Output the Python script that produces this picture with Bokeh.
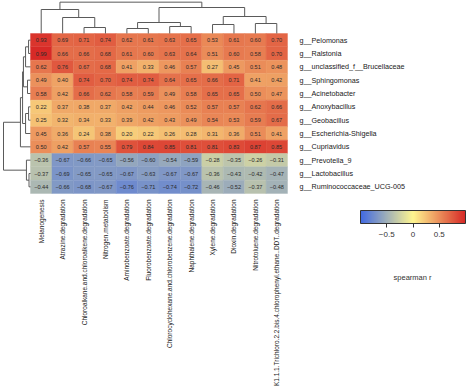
import numpy as np
from bokeh.plotting import figure
from bokeh.models import (ColumnDataSource, Range1d, LinearColorMapper, ColorBar,
                          FixedTicker, Label)
from bokeh.transform import transform
from bokeh.core.properties import value
from bokeh.embed import file_html
from bokeh.resources import INLINE

# ---------------- data ----------------
genera = ["g__Pelomonas", "g__Ralstonia", "g__unclassified_f__Brucellaceae",
          "g__Sphingomonas", "g__Acinetobacter", "g__Anoxybacillus",
          "g__Geobacillus", "g__Escherichia-Shigella", "g__Cupriavidus",
          "g__Prevotella_9", "g__Lactobacillus", "g__Ruminococcaceae_UCG-005"]

pathways = ["Melanogenesis", "Atrazine.degradation",
            "Chloroalkane.and.chloroalkene.degradation", "Nitrogen.metabolism",
            "Aminobenzoate.degradation", "Fluorobenzoate.degradation",
            "Chlorocyclohexane.and.chlorobenzene.degradation",
            "Naphthalene.degradation", "Xylene.degradation", "Dioxin.degradation",
            "Nitrotoluene.degradation",
            "K1.1.1.Trichloro.2.2.bis.4.chlorophenyl.ethane..DDT..degradation"]

r_pelomonas = [0.93, 0.69, 0.71, 0.74, 0.62, 0.61, 0.63, 0.65, 0.53, 0.61, 0.60, 0.70]
r_ralstonia = [0.99, 0.66, 0.66, 0.68, 0.61, 0.60, 0.63, 0.64, 0.51, 0.60, 0.58, 0.70]
r_brucellaceae = [0.62, 0.76, 0.67, 0.68, 0.41, 0.33, 0.46, 0.57, 0.27, 0.45, 0.51, 0.48]
r_sphingomonas = [0.49, 0.40, 0.74, 0.70, 0.74, 0.74, 0.64, 0.65, 0.66, 0.71, 0.41, 0.42]
r_acinetobacter = [0.58, 0.42, 0.66, 0.62, 0.58, 0.59, 0.49, 0.58, 0.65, 0.65, 0.50, 0.47]
r_anoxybacillus = [0.22, 0.37, 0.38, 0.37, 0.42, 0.44, 0.46, 0.52, 0.57, 0.57, 0.62, 0.66]
r_geobacillus = [0.25, 0.32, 0.34, 0.33, 0.39, 0.42, 0.43, 0.49, 0.54, 0.53, 0.59, 0.67]
r_escherichia = [0.45, 0.36, 0.24, 0.38, 0.20, 0.22, 0.26, 0.28, 0.31, 0.36, 0.51, 0.41]
r_cupriavidus = [0.50, 0.42, 0.57, 0.55, 0.79, 0.84, 0.85, 0.81, 0.81, 0.83, 0.87, 0.85]
r_prevotella = [-0.36, -0.67, -0.66, -0.65, -0.56, -0.60, -0.54, -0.59, -0.28, -0.35, -0.26, -0.31]
r_lactobacillus = [-0.37, -0.69, -0.65, -0.65, -0.67, -0.63, -0.67, -0.67, -0.36, -0.43, -0.42, -0.47]
r_ruminococcaceae = [-0.44, -0.66, -0.68, -0.67, -0.76, -0.71, -0.74, -0.72, -0.46, -0.52, -0.37, -0.48]

rows = [r_pelomonas, r_ralstonia, r_brucellaceae, r_sphingomonas, r_acinetobacter,
        r_anoxybacillus, r_geobacillus, r_escherichia, r_cupriavidus,
        r_prevotella, r_lactobacillus, r_ruminococcaceae]

# dendrogram merges (left id, right id, height); leaves are 0..n-1, merge k has id n+k
col_merges = [(2, 3, 0.45), (1, 12, 1.2), (0, 13, 1.8), (4, 5, 0.375), (6, 7, 0.525),
              (15, 16, 0.825), (8, 9, 0.675), (10, 11, 0.75), (18, 19, 1.275),
              (17, 20, 1.95), (14, 21, 2.35)]
row_merges = [(0, 1, 0.09), (12, 2, 0.23), (3, 4, 0.14), (13, 14, 0.33), (5, 6, 0.09),
              (16, 7, 0.23), (15, 17, 0.37), (18, 8, 0.47), (10, 11, 0.07), (9, 20, 0.19),
              (19, 21, 1.26)]

colorbar_ticks = [-0.5, 0, 0.5]

# ---------------- styling helpers ----------------
def blend(c1, c2, t):
    return tuple(int(round(a + (b - a) * t)) for a, b in zip(c1, c2))

blue, yel, red = (65, 105, 225), (255, 246, 143), (215, 40, 38)
palette = []
for i in range(256):
    v = -1 + 2 * i / 255
    c = blend(blue, yel, v + 1) if v < 0 else blend(yel, red, v)
    palette.append("#%02x%02x%02x" % c)
mapper = LinearColorMapper(palette=palette, low=-1, high=1)

W, H = 474, 387
cw, ch = 257 / 12, 160 / 12
x0 = -30 / cw
y0 = -33 / ch

p = figure(width=W, height=H, output_backend="svg", toolbar_location=None,
           x_axis_type=None, y_axis_type=None, min_border=0,
           x_range=Range1d(x0, x0 + W / cw), y_range=Range1d(y0 + H / ch, y0))
p.grid.visible = False
p.outline_line_color = None
p.background_fill_color = "white"

FONT = value("Liberation Sans")

# heatmap
xs, ys, vals, labs = [], [], [], []
for j, r in enumerate(rows):
    for i, v in enumerate(r):
        xs.append(i + 0.5)
        ys.append(j + 0.5)
        vals.append(v)
        labs.append(("%.2f" % v).replace("-", "\u2212"))
src = ColumnDataSource(dict(x=xs, y=ys, v=vals, lab=labs))
p.rect("x", "y", width=1, height=1, source=src,
       fill_color=transform("v", mapper), line_color=transform("v", mapper), line_width=0.4)
p.text("x", "y", text="lab", source=src, text_align="center", text_baseline="middle",
       text_font=FONT, text_font_size="5.6px", text_color="#2a2a2a")

# row labels
p.text(x=[12 + 12 / cw] * len(genera), y=[j + 0.5 for j in range(len(genera))], text=genera,
       text_align="left", text_baseline="middle", text_font=FONT, text_font_size="7.2px",
       text_color="#1a1a1a")

# column labels
p.text(x=[i + 0.5 for i in range(len(pathways))], y=[12 + 6 / ch] * len(pathways), text=pathways,
       angle=np.pi / 2, text_align="right", text_baseline="middle", text_font=FONT,
       text_font_size="6.5px", text_color="#1a1a1a")

# dendrograms
def dendro(merges, n):
    pos = {i: i + 0.5 for i in range(n)}
    hgt = {i: 0.0 for i in range(n)}
    segs = []
    for k, (a, b, h) in enumerate(merges):
        nid = n + k
        segs.append(([pos[a], pos[a], pos[b], pos[b]], [hgt[a], h, h, hgt[b]]))
        pos[nid] = (pos[a] + pos[b]) / 2
        hgt[nid] = h
    return segs

cs = dendro(col_merges, 12)
p.multi_line(xs=[s[0] for s in cs], ys=[[-h for h in s[1]] for s in cs],
             line_color="#5a5a5a", line_width=1)
rs = dendro(row_merges, 12)
p.multi_line(xs=[[-h for h in s[1]] for s in rs], ys=[s[0] for s in rs],
             line_color="#5a5a5a", line_width=1)

# colour bar
cb = ColorBar(color_mapper=mapper, orientation="horizontal", location=(360, 148),
              width=105, height=13, padding=0, margin=0,
              ticker=FixedTicker(ticks=colorbar_ticks),
              major_label_overrides={-0.5: "\u22120.5", 0: "0", 0.5: "0.5"},
              major_label_text_font_size="8px", major_label_text_font="Liberation Sans",
              major_label_text_color="#333333",
              bar_line_color="#333333", major_tick_line_color="#333333",
              major_tick_in=0, major_tick_out=4, minor_tick_line_color=None,
              background_fill_alpha=0, border_line_color=None, label_standoff=4)
p.add_layout(cb)
p.add_layout(Label(x=x0 + 412 / cw, y=y0 + 277 / ch, text="spearman r", text_align="center",
                   text_baseline="middle", text_font="Liberation Sans", text_font_size="7.5px",
                   text_color="#333333"))

open("out.html", "w").write(file_html(p, INLINE))
